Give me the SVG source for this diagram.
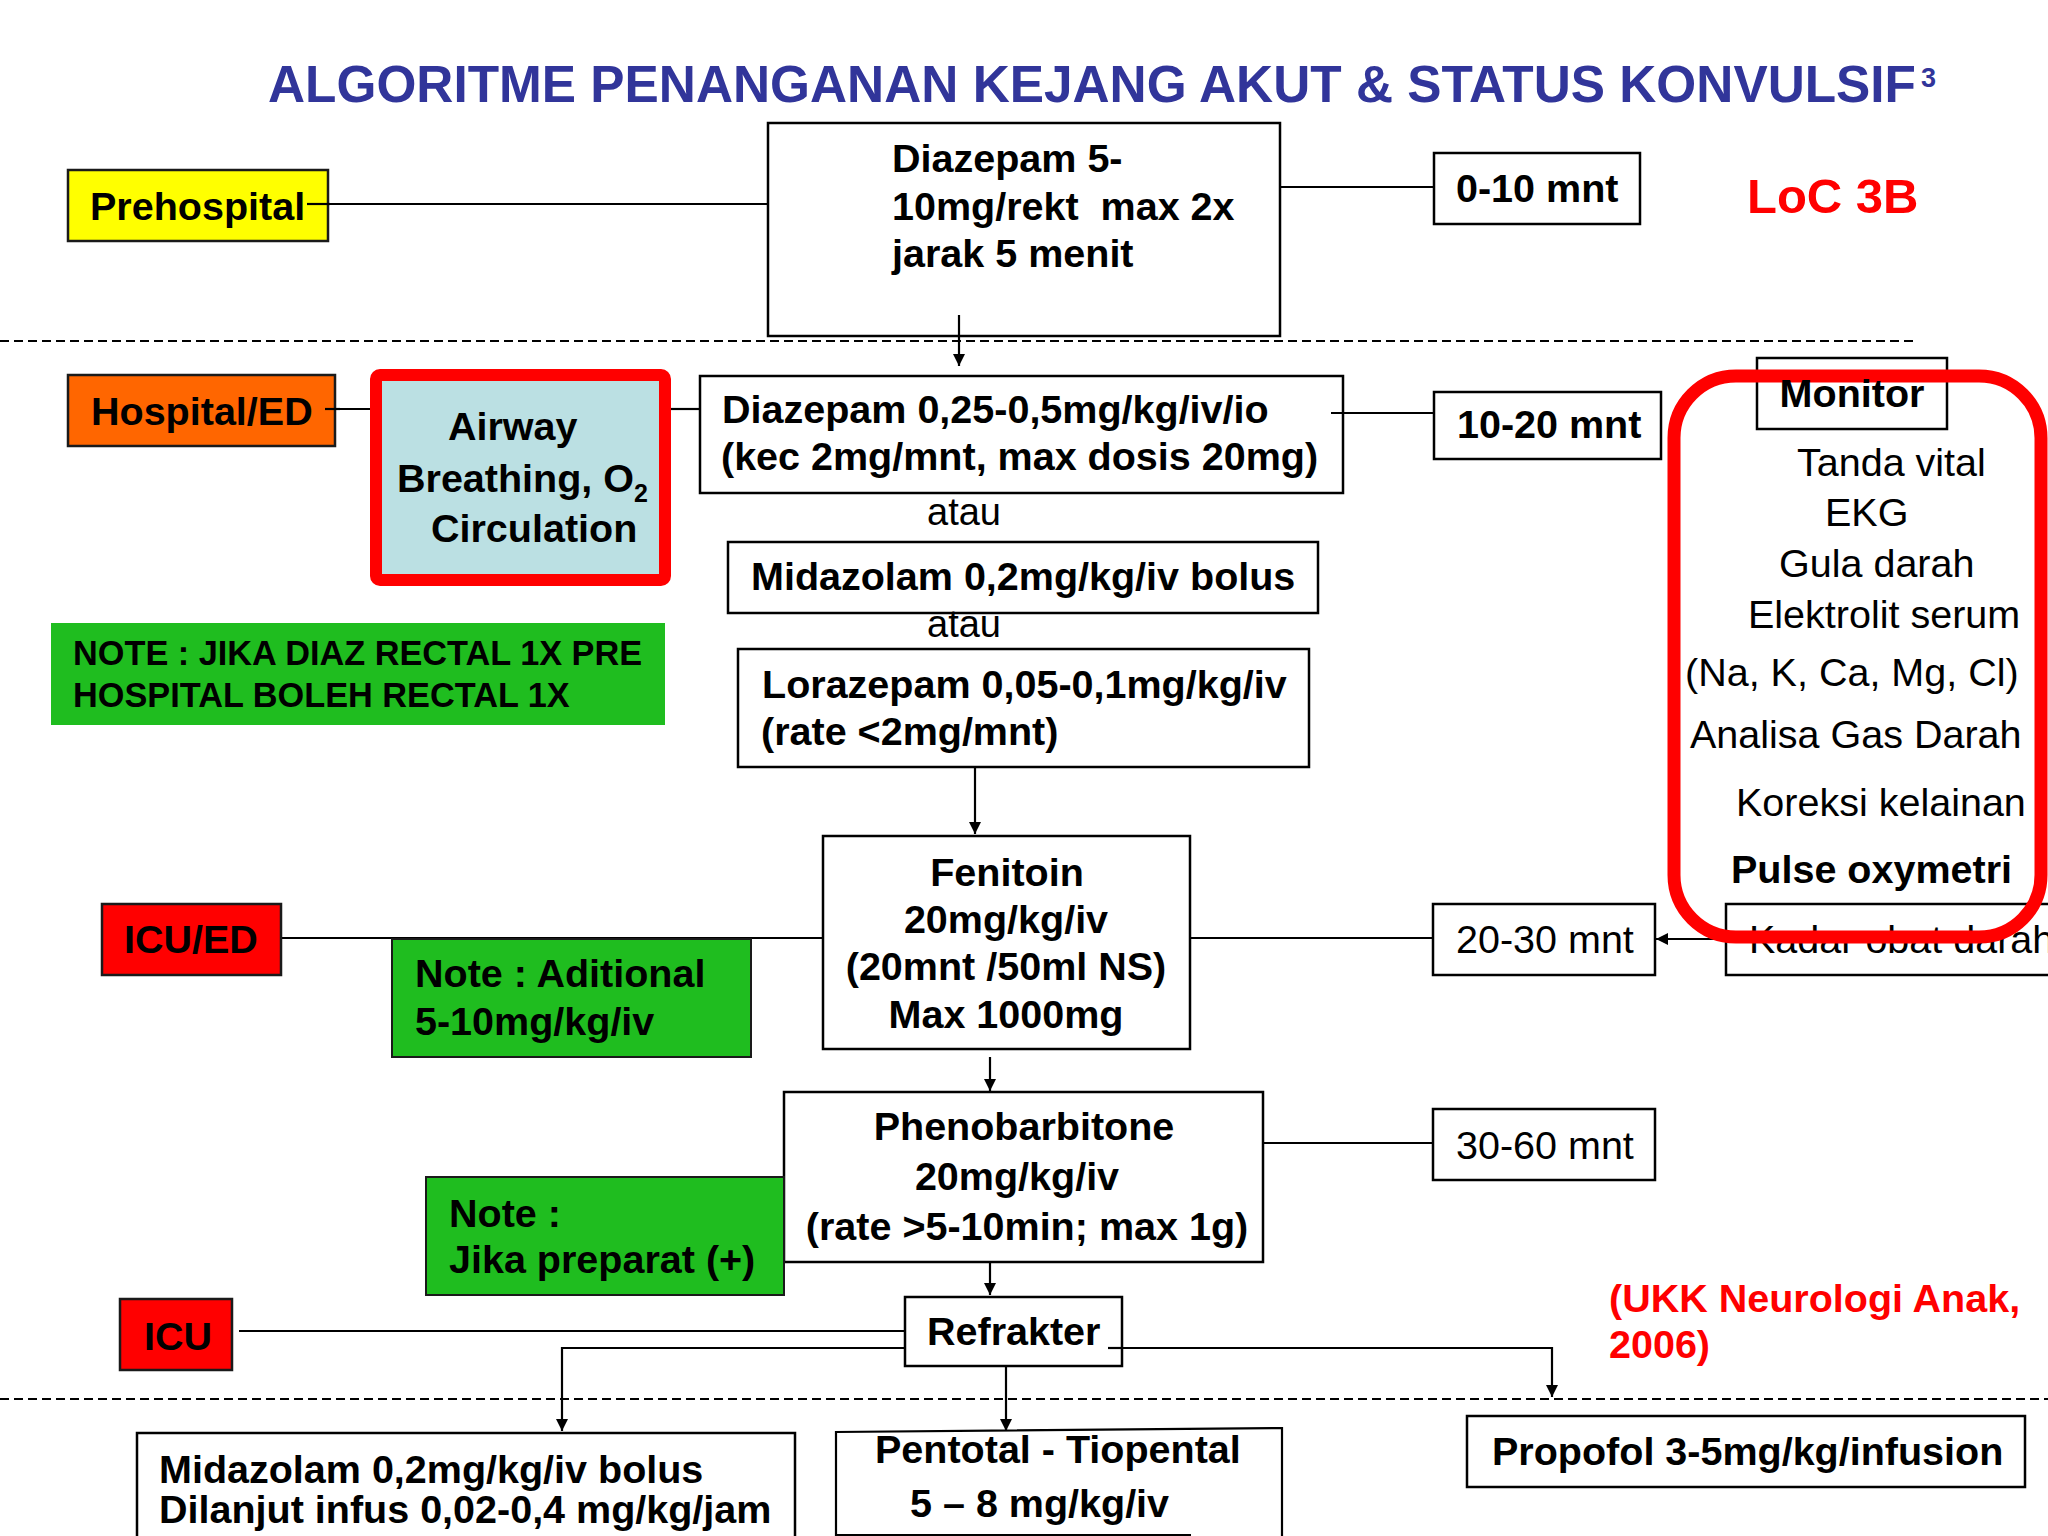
<svg xmlns="http://www.w3.org/2000/svg" width="2048" height="1536" viewBox="0 0 2048 1536">
<defs>
<style>
text{font-family:"Liberation Sans",Arial,sans-serif;fill:#000;font-size:39.5px}
.b{font-weight:bold}
.box{fill:#fff;stroke:#000;stroke-width:2.5}
.note{fill:#1fbd1f;stroke:#1a1a1a;stroke-width:2}
.red{fill:#ff0000;stroke:#1a1a1a;stroke-width:2.5}
.ln{fill:none;stroke:#000;stroke-width:2.2}
.dash{fill:none;stroke:#000;stroke-width:2.2;stroke-dasharray:9 5}
.mid{text-anchor:middle}
</style>
<marker id="ah" viewBox="0 0 12 12" refX="12" refY="6" markerWidth="12" markerHeight="12" markerUnits="userSpaceOnUse" orient="auto">
<path d="M0,0 L12,6 L0,12 z" fill="#000"/>
</marker>
</defs>
<rect width="2048" height="1536" fill="#fff"/>

<g id="title">
<text class="b" x="268" y="102" textLength="1648" lengthAdjust="spacingAndGlyphs" style="font-size:51.4px;fill:#31359a">ALGORITME PENANGANAN KEJANG AKUT &amp; STATUS KONVULSIF</text>
<text class="b" x="1921" y="87" style="font-size:27px;fill:#31359a">3</text>
</g>

<g id="dividers">
<line class="dash" x1="0" y1="341" x2="1913" y2="341"/>
<line class="dash" x1="0" y1="1399" x2="2048" y2="1399"/>
</g>

<g id="connectors">
<line class="ln" x1="307" y1="204" x2="768" y2="204"/>
<line class="ln" x1="1280" y1="187" x2="1434" y2="187"/>
<line class="ln" x1="959" y1="315" x2="959" y2="366" marker-end="url(#ah)"/>
<line class="ln" x1="325" y1="409" x2="370" y2="409"/>
<line class="ln" x1="671" y1="409" x2="700" y2="409"/>
<line class="ln" x1="1331" y1="413" x2="1434" y2="413"/>
<line class="ln" x1="975" y1="767" x2="975" y2="834" marker-end="url(#ah)"/>
<line class="ln" x1="274" y1="938" x2="823" y2="938"/>
<line class="ln" x1="1190" y1="938" x2="1433" y2="938"/>
<line class="ln" x1="1726" y1="939" x2="1656" y2="939" marker-end="url(#ah)"/>
<line class="ln" x1="990" y1="1057" x2="990" y2="1091" marker-end="url(#ah)"/>
<line class="ln" x1="1263" y1="1143" x2="1433" y2="1143"/>
<line class="ln" x1="990" y1="1262" x2="990" y2="1295" marker-end="url(#ah)"/>
<line class="ln" x1="239" y1="1331" x2="905" y2="1331"/>
<polyline class="ln" points="905,1348 562,1348 562,1431" marker-end="url(#ah)"/>
<polyline class="ln" points="1108,1348 1552,1348 1552,1397" marker-end="url(#ah)"/>
<line class="ln" x1="1006" y1="1366" x2="1006" y2="1431" marker-end="url(#ah)"/>
</g>

<g id="prehospital">
<rect x="68" y="170" width="260" height="71" fill="#ffff00" stroke="#1a1a1a" stroke-width="2.5"/>
<text class="b" x="90" y="220">Prehospital</text>
</g>
<line class="ln" x1="307" y1="204" x2="330" y2="204"/>

<g id="diazepam-rectal">
<rect class="box" x="768" y="123" width="512" height="213" fill-opacity="0"/>
<text class="b" x="892" y="172">Diazepam 5-</text>
<text class="b" x="892" y="220" xml:space="preserve">10mg/rekt  max 2x</text>
<text class="b" x="892" y="267">jarak 5 menit</text>
</g>

<g id="t-0-10">
<rect class="box" x="1434" y="153" width="206" height="71"/>
<text class="b" x="1456" y="202">0-10 mnt</text>
</g>

<g id="loc">
<text class="b" x="1747" y="213" style="font-size:49px;fill:#ff0000">LoC 3B</text>
</g>

<g id="hospital-ed">
<rect x="68" y="375" width="267" height="71" fill="#ff6600" stroke="#1a1a1a" stroke-width="2.5"/>
<text class="b" x="91" y="425">Hospital/ED</text>
</g>
<line class="ln" x1="325" y1="409" x2="340" y2="409"/>

<g id="abc">
<rect x="376" y="375" width="289" height="205" rx="4" fill="#bbe0e3" stroke="#ff0000" stroke-width="12"/>
<text class="b" x="448" y="440">Airway</text>
<text class="b" x="397" y="492">Breathing, O<tspan style="font-size:25px" dy="10">2</tspan></text>
<text class="b" x="431" y="542">Circulation</text>
</g>

<g id="diazepam-iv">
<rect class="box" x="700" y="376" width="643" height="117" fill-opacity="0"/>
<text class="b" x="722" y="423">Diazepam 0,25-0,5mg/kg/iv/io</text>
<text class="b" x="721" y="470">(kec 2mg/mnt, max dosis 20mg)</text>
</g>

<g id="t-10-20">
<rect class="box" x="1434" y="392" width="227" height="67"/>
<text class="b" x="1457" y="438">10-20 mnt</text>
</g>

<g id="atau1"><text x="927" y="525" style="font-size:38px">atau</text></g>

<g id="midazolam-iv">
<rect class="box" x="728" y="542" width="590" height="71"/>
<text class="b" x="751" y="590">Midazolam 0,2mg/kg/iv bolus</text>
</g>

<g id="atau2"><text x="927" y="637" style="font-size:38px">atau</text></g>

<g id="lorazepam">
<rect class="box" x="738" y="649" width="571" height="118"/>
<text class="b" x="762" y="698">Lorazepam 0,05-0,1mg/kg/iv</text>
<text class="b" x="761" y="745">(rate &lt;2mg/mnt)</text>
</g>

<g id="note-rectal">
<rect x="51" y="623" width="614" height="102" fill="#1fbd1f"/>
<text class="b" x="73" y="665" style="font-size:34.3px">NOTE : JIKA DIAZ RECTAL 1X PRE</text>
<text class="b" x="73" y="707" style="font-size:34.3px">HOSPITAL BOLEH RECTAL 1X</text>
</g>

<g id="icu-ed">
<rect class="red" x="102" y="904" width="179" height="71"/>
<text class="b" x="124" y="953">ICU/ED</text>
</g>

<g id="note-aditional">
<rect class="note" x="392" y="939" width="359" height="118"/>
<text class="b" x="415" y="987">Note : Aditional</text>
<text class="b" x="415" y="1035">5-10mg/kg/iv</text>
</g>

<g id="fenitoin">
<rect class="box" x="823" y="836" width="367" height="213"/>
<text class="b mid" x="1007" y="886">Fenitoin</text>
<text class="b mid" x="1006" y="933">20mg/kg/iv</text>
<text class="b mid" x="1006" y="980">(20mnt /50ml NS)</text>
<text class="b mid" x="1006" y="1028">Max 1000mg</text>
</g>

<g id="t-20-30">
<rect class="box" x="1433" y="904" width="222" height="71"/>
<text x="1456" y="953">20-30 mnt</text>
</g>

<g id="kadar">
<rect class="box" x="1726" y="904" width="340" height="71"/>
<text x="1749" y="953">Kadar obat darah</text>
</g>

<g id="monitor">
<rect class="box" x="1757" y="358" width="190" height="71"/>
<rect x="1674" y="376" width="367" height="561" rx="62" fill="none" stroke="#ff0000" stroke-width="13"/>
<text class="b mid" x="1852" y="407">Monitor</text>
<text x="1797" y="476">Tanda vital</text>
<text x="1825" y="526">EKG</text>
<text x="1779" y="577">Gula darah</text>
<text x="1748" y="628">Elektrolit serum</text>
<text x="1685" y="686">(Na, K, Ca, Mg, Cl)</text>
<text x="1690" y="748">Analisa Gas Darah</text>
<text x="1736" y="816">Koreksi kelainan</text>
<text class="b" x="1731" y="883">Pulse oxymetri</text>
</g>

<g id="phenobarbitone">
<rect class="box" x="784" y="1092" width="479" height="170"/>
<text class="b mid" x="1024" y="1140">Phenobarbitone</text>
<text class="b mid" x="1017" y="1190">20mg/kg/iv</text>
<text class="b mid" x="1027" y="1240">(rate &gt;5-10min; max 1g)</text>
</g>

<g id="t-30-60">
<rect class="box" x="1433" y="1109" width="222" height="71"/>
<text x="1456" y="1159">30-60 mnt</text>
</g>

<g id="note-preparat">
<rect class="note" x="426" y="1177" width="358" height="118"/>
<text class="b" x="449" y="1227">Note :</text>
<text class="b" x="449" y="1273">Jika preparat (+)</text>
</g>

<g id="icu">
<rect class="red" x="120" y="1299" width="112" height="71"/>
<text class="b" x="144" y="1350">ICU</text>
</g>

<g id="refrakter">
<rect class="box" x="905" y="1297" width="217" height="69"/>
<text class="b" x="927" y="1345">Refrakter</text>
</g>
<line class="ln" x1="1108" y1="1348" x2="1122" y2="1348"/>

<g id="source">
<text class="b" x="1609" y="1312" style="fill:#ff0000">(UKK Neurologi Anak,</text>
<text class="b" x="1609" y="1358" style="fill:#ff0000">2006)</text>
</g>

<g id="midazolam-infus">
<rect class="box" x="137" y="1433" width="658" height="140"/>
<text class="b" x="159" y="1483">Midazolam 0,2mg/kg/iv bolus</text>
<text class="b" x="159" y="1523">Dilanjut infus 0,02-0,4 mg/kg/jam</text>
</g>

<g id="pentotal">
<path class="ln" d="M836,1560 L836,1432 L1282,1428 L1282,1560"/>
<line class="ln" x1="836" y1="1535" x2="1191" y2="1535"/>
<text class="b" x="875" y="1463">Pentotal - Tiopental</text>
<text class="b" x="910" y="1517">5 – 8 mg/kg/iv</text>
</g>

<g id="propofol">
<rect class="box" x="1467" y="1416" width="558" height="71"/>
<text class="b" x="1492" y="1465">Propofol 3-5mg/kg/infusion</text>
</g>
</svg>
